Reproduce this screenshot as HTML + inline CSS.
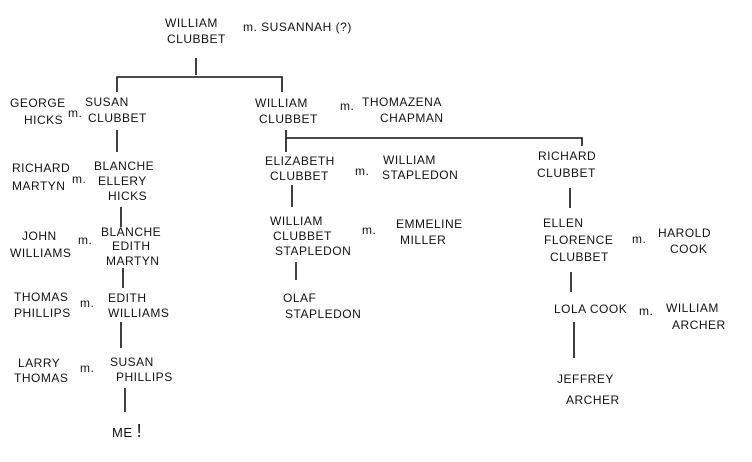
<!DOCTYPE html>
<html><head><meta charset="utf-8"><style>
html,body{margin:0;padding:0;background:#fff;}
body{width:752px;height:462px;position:relative;overflow:hidden;font-family:"Liberation Sans",sans-serif;color:#111;}
.t{position:absolute;font-size:12px;line-height:14px;white-space:nowrap;letter-spacing:0.5px;}
svg{position:absolute;left:0;top:0;}
</style></head><body>
<svg width="752" height="462"><g stroke="#111" stroke-width="1.6" fill="none">
<path d="M196 58V75M117 92V77H282V92"/>
<path d="M117 130V152M121 207V227M123 268V288M121 322V348M125 388V412"/>
<path d="M286 130V152M286 138H582V146M292 185V207M296 262V280"/>
<path d="M570 188V208M571 272V292M574 322V358"/>
</g></svg>
<div class="t" style="left:165px;top:16px">WILLIAM</div>
<div class="t" style="left:167px;top:32px">CLUBBET</div>
<div class="t" style="left:243px;top:20px">m. SUSANNAH (?)</div>

<div class="t" style="left:10px;top:96px">GEORGE</div>
<div class="t" style="left:24px;top:113px">HICKS</div>
<div class="t" style="left:68px;top:106px">m.</div>
<div class="t" style="left:85px;top:95px">SUSAN</div>
<div class="t" style="left:88px;top:111px">CLUBBET</div>

<div class="t" style="left:12px;top:161px">RICHARD</div>
<div class="t" style="left:12px;top:179px">MARTYN</div>
<div class="t" style="left:72px;top:172px">m.</div>
<div class="t" style="left:94px;top:159px">BLANCHE</div>
<div class="t" style="left:98px;top:174px">ELLERY</div>
<div class="t" style="left:108px;top:189px">HICKS</div>

<div class="t" style="left:22px;top:229px">JOHN</div>
<div class="t" style="left:10px;top:246px">WILLIAMS</div>
<div class="t" style="left:78px;top:233px">m.</div>
<div class="t" style="left:101px;top:225px">BLANCHE</div>
<div class="t" style="left:112px;top:239px">EDITH</div>
<div class="t" style="left:106px;top:254px">MARTYN</div>

<div class="t" style="left:14px;top:290px">THOMAS</div>
<div class="t" style="left:14px;top:306px">PHILLIPS</div>
<div class="t" style="left:80px;top:296px">m.</div>
<div class="t" style="left:108px;top:291px">EDITH</div>
<div class="t" style="left:108px;top:306px">WILLIAMS</div>

<div class="t" style="left:18px;top:356px">LARRY</div>
<div class="t" style="left:14px;top:371px">THOMAS</div>
<div class="t" style="left:80px;top:361px">m.</div>
<div class="t" style="left:110px;top:355px">SUSAN</div>
<div class="t" style="left:116px;top:370px">PHILLIPS</div>
<div class="t" style="left:112px;top:424px;font-size:13px">ME <span style="font-size:18px">!</span></div>

<div class="t" style="left:255px;top:96px">WILLIAM</div>
<div class="t" style="left:259px;top:112px">CLUBBET</div>
<div class="t" style="left:340px;top:99px">m.</div>
<div class="t" style="left:362px;top:95px">THOMAZENA</div>
<div class="t" style="left:380px;top:111px">CHAPMAN</div>

<div class="t" style="left:265px;top:154px">ELIZABETH</div>
<div class="t" style="left:270px;top:169px">CLUBBET</div>
<div class="t" style="left:355px;top:164px">m.</div>
<div class="t" style="left:383px;top:153px">WILLIAM</div>
<div class="t" style="left:382px;top:168px">STAPLEDON</div>

<div class="t" style="left:270px;top:214px">WILLIAM</div>
<div class="t" style="left:273px;top:229px">CLUBBET</div>
<div class="t" style="left:275px;top:244px">STAPLEDON</div>
<div class="t" style="left:362px;top:223px">m.</div>
<div class="t" style="left:396px;top:217px">EMMELINE</div>
<div class="t" style="left:400px;top:233px">MILLER</div>

<div class="t" style="left:283px;top:291px">OLAF</div>
<div class="t" style="left:285px;top:307px">STAPLEDON</div>

<div class="t" style="left:538px;top:149px">RICHARD</div>
<div class="t" style="left:537px;top:166px">CLUBBET</div>

<div class="t" style="left:543px;top:216px">ELLEN</div>
<div class="t" style="left:544px;top:233px">FLORENCE</div>
<div class="t" style="left:550px;top:250px">CLUBBET</div>
<div class="t" style="left:632px;top:232px">m.</div>
<div class="t" style="left:658px;top:226px">HAROLD</div>
<div class="t" style="left:670px;top:242px">COOK</div>

<div class="t" style="left:554px;top:302px">LOLA COOK</div>
<div class="t" style="left:639px;top:304px">m.</div>
<div class="t" style="left:666px;top:301px">WILLIAM</div>
<div class="t" style="left:672px;top:318px">ARCHER</div>

<div class="t" style="left:557px;top:372px">JEFFREY</div>
<div class="t" style="left:566px;top:393px">ARCHER</div>
</body></html>
